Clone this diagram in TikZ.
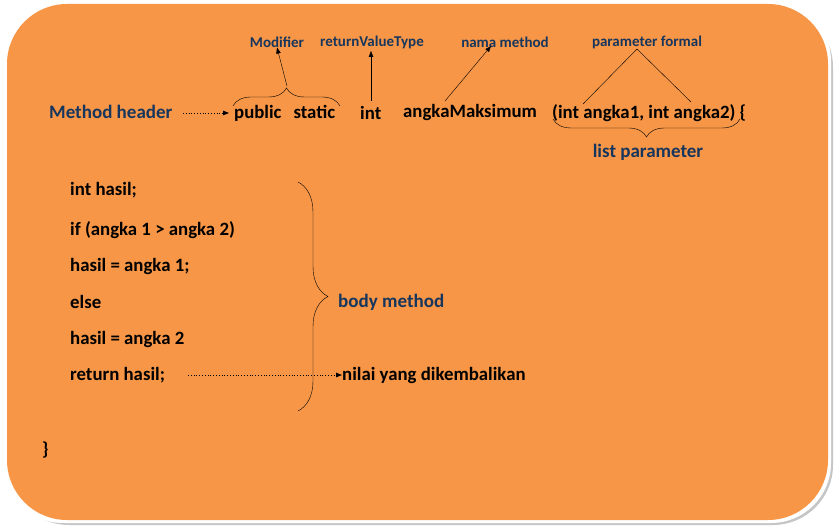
\documentclass[tikz,border=0pt]{standalone}
\usepackage{fontspec}
\setmainfont{Carlito}
\usetikzlibrary{arrows.meta,decorations.pathreplacing}
\definecolor{bg}{HTML}{F79646}
\definecolor{navy}{HTML}{17365D}
\begin{document}
\begin{tikzpicture}[x=1pt,y=-1pt,
  code/.style={anchor=west,inner sep=0,font=\fontsize{18.8}{20}\selectfont\bfseries,text=black},
  lab/.style={inner sep=0,font=\fontsize{15}{16}\selectfont\bfseries,text=navy},
  big/.style={anchor=west,inner sep=0,font=\fontsize{19}{20}\selectfont\bfseries,text=navy},
  arr/.style={-{Triangle[length=6pt,width=4.5pt]},thin},
  dots/.style={-{Triangle[length=6pt,width=4.5pt]},dotted,thick}]
\useasboundingbox (0,0) rectangle (835,526);
\fill[gray!45,rounded corners=60pt] (9,7) rectangle (833,525);
\fill[white,rounded corners=60pt] (3,1) rectangle (831,523);
\fill[bg,rounded corners=60pt] (7,4) rectangle (828,520);
% labels
\node[lab] (mod) at (277,42) {Modifier};
\node[lab] (rvt) at (372,42) {returnValueType};
\node[lab] (nm) at (505,42) {nama method};
\node[lab] (pf) at (647,42) {parameter formal};
% header
\node[big] (mh) at (49,112) {Method header};
\node[code] (ps) at (234,113) {public\hspace{12pt}static};
\node[code] (int) at (360,113) {int};
\node[code] (am) at (403,113) {angkaMaksimum};
\node[code] (par) at (552,113) {(int angka1, int angka2) \{};
\node[big,anchor=center] (lp) at (648,152) {list parameter};
\coordinate (mhs) at (183,113);
\coordinate (mhend) at (229,113);
\draw[dots] (mhs) -- (mhend);
% brace above public static
\draw[decorate,decoration={brace,amplitude=18pt}] (233,106) -- (340,106);
\coordinate (modtip) at (287,86);
\draw[arr] (modtip) -- (mod.south);
\coordinate (inttop) at (371,101);
\coordinate (intend) at (371,51);
\draw[arr] (inttop) -- (intend);
\coordinate (amtop) at (445,101);
\coordinate (amend) at (491,46);
\draw[arr] (amtop) -- (amend);
\coordinate (apex) at (637,49);
\coordinate (pl) at (583,104);
\coordinate (pr) at (691,102);
\draw[thin] (apex) -- (pl) (apex) -- (pr);
\draw[decorate,decoration={brace,amplitude=18pt}] (740,119) -- (553,119);
% body
\node[code] (c1) at (70,190) {int hasil;};
\node[code] (c2) at (70,230) {if (angka 1 > angka 2)};
\node[code] (c3) at (70,266) {hasil = angka 1;};
\node[code] (c4) at (70,302) {else};
\node[code] (c5) at (70,339) {hasil = angka 2};
\node[code] (c6) at (70,375) {return hasil;};
\draw[decorate,decoration={brace,amplitude=30pt}] (298,182) -- (298,411);
\node[big] (bm) at (338,302) {body method};
\node[code] (nyd) at (342,375) {nilai yang dikembalikan};
\coordinate (c6e) at (188,375);
\draw[dots] (c6e) -- (nyd.west);
\node[code] (cb) at (42,450) {\}};
\end{tikzpicture}
\end{document}
